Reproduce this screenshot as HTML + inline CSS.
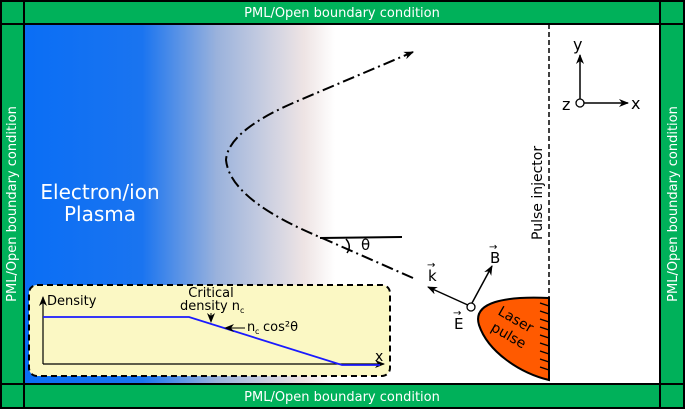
<!DOCTYPE html>
<html><head><style>
body{margin:0;width:685px;height:409px;overflow:hidden;background:#fff;font-family:"DejaVu Sans","Liberation Sans",sans-serif}
</style></head><body>
<svg width="685" height="409" viewBox="0 0 685 409" xmlns="http://www.w3.org/2000/svg" font-family="DejaVu Sans, Liberation Sans, sans-serif">
<defs>
<linearGradient id="g" x1="24" x2="335" gradientUnits="userSpaceOnUse">
<stop offset="0" stop-color="#0a6ef5"/>
<stop offset="0.38" stop-color="#1a74f0"/>
<stop offset="0.62" stop-color="#9ab2dc"/>
<stop offset="0.9" stop-color="#eee4e4"/>
<stop offset="1" stop-color="#ffffff"/>
</linearGradient>
<marker id="a" markerWidth="10" markerHeight="8" refX="9" refY="4" orient="auto" markerUnits="userSpaceOnUse"><path d="M0,0 L10,4 L0,8 L3,4z" fill="#000"/></marker>
</defs>
<rect x="24" y="24" width="636" height="360" fill="url(#g)"/>
<rect x="335" y="24" width="325" height="360" fill="#fff"/>
<g fill="#00b15a" stroke="#000" stroke-width="2">
<rect x="1" y="1" width="683" height="23"/>
<rect x="1" y="384" width="683" height="24"/>
<rect x="1" y="24" width="23" height="360"/>
<rect x="660" y="24" width="24" height="360"/>
</g>
<line x1="24" y1="0" x2="24" y2="409" stroke="#000" stroke-width="2"/>
<line x1="660" y1="0" x2="660" y2="409" stroke="#000" stroke-width="2"/>
<g fill="#fff" font-size="13" text-anchor="middle">
<text x="342" y="17">PML/Open boundary condition</text>
<text x="342" y="401">PML/Open boundary condition</text>
<text transform="translate(16,204) rotate(-90)">PML/Open boundary condition</text>
<text transform="translate(677,204) rotate(-90)">PML/Open boundary condition</text>
</g>
<text x="100" y="199" fill="#fff" font-size="20" text-anchor="middle">Electron/ion</text>
<text x="100" y="221" fill="#fff" font-size="20" text-anchor="middle">Plasma</text>
<line x1="549" y1="24" x2="549" y2="384" stroke="#000" stroke-width="1.5" stroke-dasharray="5,3"/>
<text transform="translate(542,240) rotate(-90)" font-size="14">Pulse injector</text>
<line x1="580" y1="103" x2="580" y2="55" stroke="#000" stroke-width="1.5" marker-end="url(#a)"/>
<line x1="580" y1="103" x2="628" y2="103" stroke="#000" stroke-width="1.5" marker-end="url(#a)"/>
<circle cx="580" cy="103" r="4" fill="#fff" stroke="#000" stroke-width="1.3"/>
<text x="573" y="50" font-size="16">y</text>
<text x="631" y="109" font-size="16">x</text>
<text x="562" y="110" font-size="16">z</text>
<path d="M413,278 L322,238 Q230,200 226,160 Q228,130 300,100 L413,52" fill="none" stroke="#000" stroke-width="2" stroke-dasharray="12,4,2,4" marker-end="url(#a)"/>
<line x1="320" y1="238" x2="402" y2="237" stroke="#000" stroke-width="2"/>
<path d="M346,239 Q352,246 347,253" fill="none" stroke="#000" stroke-width="1.5"/>
<text x="361" y="250" font-size="15">θ</text>
<path d="M549,298 C505,296 472,302 479,325 C488,352 520,373 549,380 Z" fill="#ff5a00" stroke="#000" stroke-width="2"/>
<g stroke="#000" stroke-width="1.3">
<line x1="540" y1="303" x2="549" y2="306"/><line x1="540" y1="311" x2="549" y2="314"/><line x1="540" y1="319" x2="549" y2="322"/><line x1="540" y1="327" x2="549" y2="330"/><line x1="540" y1="335" x2="549" y2="338"/><line x1="540" y1="343" x2="549" y2="346"/><line x1="540" y1="351" x2="549" y2="354"/><line x1="540" y1="359" x2="549" y2="362"/><line x1="540" y1="367" x2="549" y2="370"/>
</g>
<text transform="translate(497,314) rotate(30)" font-size="14">Laser</text>
<text transform="translate(490,330) rotate(30)" font-size="14">pulse</text>
<line x1="470" y1="306" x2="428" y2="287" stroke="#000" stroke-width="1.5" marker-end="url(#a)"/>
<line x1="472" y1="303" x2="492" y2="266" stroke="#000" stroke-width="1.5" marker-end="url(#a)"/>
<circle cx="471" cy="307" r="4" fill="#fff" stroke="#000" stroke-width="1.3"/>
<text x="428" y="281" font-size="15">k</text><text x="427" y="268" font-size="10">→</text>
<text x="490" y="263" font-size="15">B</text><text x="489" y="250" font-size="10">→</text>
<text x="454" y="329" font-size="15">E</text><text x="453" y="316" font-size="10">→</text>
<rect x="29" y="285" width="361" height="91" rx="8" fill="#fbf8c4" stroke="#000" stroke-width="2" stroke-dasharray="6,4"/>
<line x1="43" y1="364" x2="43" y2="297" stroke="#000" stroke-width="1.2" marker-end="url(#a)"/>
<line x1="43" y1="364" x2="384" y2="364" stroke="#000" stroke-width="1.2" marker-end="url(#a)"/>
<polyline points="43,317 189,317 342,365 380,365" fill="none" stroke="#1a1aff" stroke-width="1.8"/>
<text x="47" y="305" font-size="13">Density</text>
<text x="375" y="361" font-size="14">x</text>
<text x="211" y="297" font-size="13" text-anchor="middle">Critical</text>
<text x="180" y="310" font-size="13">density n</text><text x="240" y="313" font-size="8">c</text>
<line x1="211" y1="313" x2="211" y2="322" stroke="#000" stroke-width="1" marker-end="url(#a)"/>
<line x1="245" y1="328" x2="225" y2="328" stroke="#000" stroke-width="1" marker-end="url(#a)"/>
<text x="247" y="331" font-size="13">n</text><text x="255" y="334" font-size="8">c</text>
<text x="263" y="331" font-size="13">cos²θ</text>
</svg>
</body></html>
